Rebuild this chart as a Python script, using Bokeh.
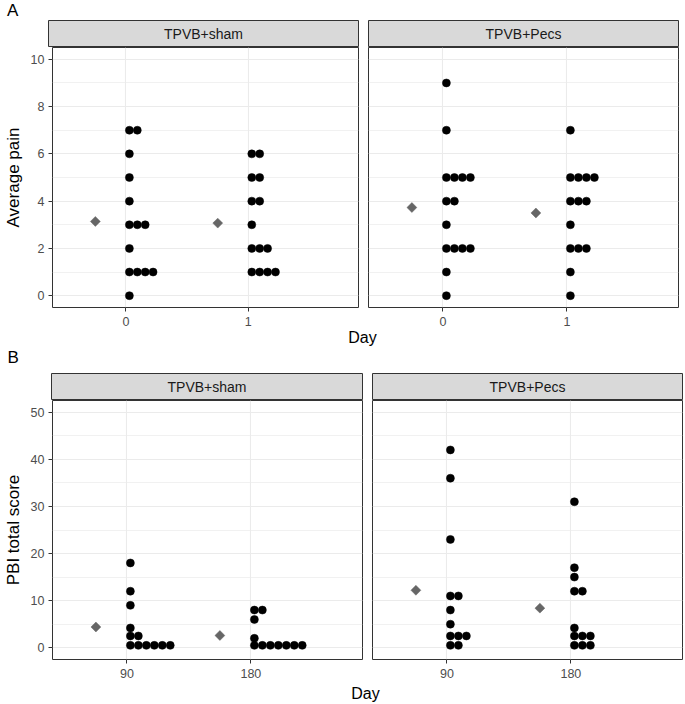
import math
from collections import Counter

from bokeh.plotting import figure
from bokeh.models import Range1d, FixedTicker, Label
from bokeh.layouts import column, row
from bokeh.embed import file_html
from bokeh.resources import INLINE

FONT = "Liberation Sans"

# ---------------- data ----------------
groups = ["TPVB+sham", "TPVB+Pecs"]

# A: average pain by day
pain_days = [0, 1]
pain_day_labels = ["0", "1"]
pain_sham_day0 = [0, 1, 1, 1, 1, 2, 3, 3, 3, 4, 5, 6, 7, 7]
pain_sham_day1 = [1, 1, 1, 1, 2, 2, 2, 3, 4, 4, 5, 5, 6, 6]
pain_pecs_day0 = [0, 1, 2, 2, 2, 2, 3, 4, 4, 5, 5, 5, 5, 7, 9]
pain_pecs_day1 = [0, 1, 2, 2, 2, 3, 4, 4, 4, 5, 5, 5, 5, 7]
pain_sham_mean = [3.14, 3.07]
pain_pecs_mean = [3.73, 3.50]
pain_major = [0, 2, 4, 6, 8, 10]
pain_minor = [1, 3, 5, 7, 9]

# B: PBI total score by day (dot centres are the binned values)
pbi_days = [90, 180]
pbi_day_labels = ["90", "180"]
pbi_sham_day90 = [0.5, 0.5, 0.5, 0.5, 0.5, 0.5, 2.5, 2.5, 4.2, 9, 12, 18]
pbi_sham_day180 = [0.5, 0.5, 0.5, 0.5, 0.5, 0.5, 0.5, 2, 6, 8, 8]
pbi_pecs_day90 = [0.5, 0.5, 2.5, 2.5, 2.5, 5, 8, 11, 11, 23, 36, 42]
pbi_pecs_day180 = [0.5, 0.5, 0.5, 2.5, 2.5, 2.5, 4.2, 12, 12, 15, 17, 31]
pbi_sham_mean = [4.4, 2.6]
pbi_pecs_mean = [12.2, 8.4]
pbi_major = [0, 10, 20, 30, 40, 50]
pbi_minor = [5, 15, 25, 35, 45]

# ---------------- style ----------------
GRID = "#EBEBEB"
BORDER = "#333333"
STRIP_FILL = "#D9D9D9"
TICK_TEXT = "#4D4D4D"
MEAN_COLOR = "#666666"
DOT_SIZE = 8          # px diameter
DOT_START = 3.5       # px from the day line to the first dot centre
MEAN_NUDGE = -0.25    # fraction of the day spacing
STRIP_H = 27
BOTTOM_AXIS_H = 23
PAGE_W = 685


def make_panel(day_values, means, days, day_labels, xr, yr, major, minor,
               fw, fh, left, right, ylabel=None):
    p = figure(width=left + fw + right, height=fh + BOTTOM_AXIS_H, title=None,
               x_range=Range1d(*xr), y_range=Range1d(*yr),
               min_border_left=left, min_border_right=right,
               min_border_top=0, min_border_bottom=BOTTOM_AXIS_H,
               y_axis_location="left" if ylabel else None,
               toolbar_location=None, output_backend="svg",
               background_fill_color="white", border_fill_color="white",
               outline_line_color=BORDER, outline_line_width=1)

    # grid
    p.xgrid.ticker = FixedTicker(ticks=days)
    p.xgrid.grid_line_color = GRID
    p.xgrid.grid_line_width = 1.1
    p.ygrid.ticker = FixedTicker(ticks=major, minor_ticks=minor)
    p.ygrid.grid_line_color = GRID
    p.ygrid.grid_line_width = 1.1
    p.ygrid.minor_grid_line_color = GRID
    p.ygrid.minor_grid_line_width = 0.7

    # x axis
    xa = p.xaxis[0]
    xa.ticker = FixedTicker(ticks=days)
    xa.major_label_overrides = {d: lab for d, lab in zip(days, day_labels)}
    xa.axis_line_color = None
    xa.major_tick_line_color = BORDER
    xa.major_tick_out = 4
    xa.major_tick_in = 0
    xa.minor_tick_line_color = None
    xa.major_label_standoff = 5
    xa.major_label_text_font = FONT
    xa.major_label_text_font_size = "12.5px"
    xa.major_label_text_color = TICK_TEXT

    if ylabel:
        ya = p.yaxis[0]
        ya.ticker = FixedTicker(ticks=major, minor_ticks=minor)
        ya.axis_line_color = None
        ya.major_tick_line_color = BORDER
        ya.major_tick_out = 4
        ya.major_tick_in = 0
        ya.minor_tick_line_color = None
        ya.major_label_standoff = 4
        ya.major_label_text_font = FONT
        ya.major_label_text_font_size = "12.5px"
        ya.major_label_text_color = TICK_TEXT
        ya.axis_label = ylabel
        ya.axis_label_text_font = FONT
        ya.axis_label_text_font_size = "17px"
        ya.axis_label_text_font_style = "normal"
        ya.axis_label_text_color = "black"
        ya.axis_label_standoff = 5

    # dot stacks, growing to the right of each day
    ppu = fw / (xr[1] - xr[0])
    xs, ys = [], []
    for day, vals in zip(days, day_values):
        seen = Counter()
        for v in sorted(vals):
            k = seen[v]
            seen[v] += 1
            xs.append(day + (DOT_START + k * DOT_SIZE) / ppu)
            ys.append(v)
    p.scatter(xs, ys, marker="circle", size=DOT_SIZE,
              fill_color="black", line_color="black", line_width=0.5)

    # group means, nudged to the left of each day
    step = days[1] - days[0]
    mx = [d + MEAN_NUDGE * step for d in days]
    p.scatter(mx, means, marker="square", angle=math.pi / 4, size=7,
              fill_color=MEAN_COLOR, line_color=MEAN_COLOR, line_width=0.5)
    return p


def make_strip(text, fw, left, right):
    s = figure(width=left + fw + right, height=STRIP_H, title=None,
               x_range=Range1d(0, 1), y_range=Range1d(0, 1),
               min_border_left=left, min_border_right=right,
               min_border_top=0, min_border_bottom=0,
               x_axis_location=None, y_axis_location=None,
               toolbar_location=None, output_backend="svg",
               background_fill_color=STRIP_FILL, border_fill_color="white",
               outline_line_color=BORDER, outline_line_width=1)
    s.grid.visible = False
    s.add_layout(Label(x=0.5, y=0.5, text=text, text_align="center",
                       text_baseline="middle", text_font=FONT,
                       text_font_size="14px", text_color="#1A1A1A"))
    return s


def make_text_band(height, items):
    t = figure(width=PAGE_W, height=height, title=None,
               x_range=Range1d(0, PAGE_W), y_range=Range1d(0, height),
               min_border=0, x_axis_location=None, y_axis_location=None,
               toolbar_location=None, output_backend="svg",
               outline_line_color=None, background_fill_color="white",
               border_fill_color="white")
    t.grid.visible = False
    for x, y, text, size, align in items:
        t.add_layout(Label(x=x, y=y, text=text, text_align=align,
                           text_baseline="middle", text_font=FONT,
                           text_font_size=size, text_color="black"))
    return t


# ---------------- section A ----------------
pain_xr = (-0.6, 1.9)
pain_yr = (-0.5, 10.5)
hdr_a = make_text_band(20, [(6.5, 10.5, "A", "17px", "left")])
strips_a = row(make_strip(groups[0], 310, 48, 1), make_strip(groups[1], 310, 9, 7))
panels_a = row(
    make_panel([pain_sham_day0, pain_sham_day1], pain_sham_mean, pain_days,
               pain_day_labels, pain_xr, pain_yr, pain_major, pain_minor,
               310, 260, 48, 1, ylabel="Average pain"),
    make_panel([pain_pecs_day0, pain_pecs_day1], pain_pecs_mean, pain_days,
               pain_day_labels, pain_xr, pain_yr, pain_major, pain_minor,
               310, 260, 9, 7),
)

# band between the two sections: x title of A and the tag of B
mid_band = make_text_band(43, [(362, 36, "Day", "16px", "center"),
                               (7, 16.3, "B", "17px", "left")])

# ---------------- section B ----------------
pbi_xr = (36, 261)
pbi_yr = (-2.5, 52.5)
strips_b = row(make_strip(groups[0], 311, 51, 1), make_strip(groups[1], 310, 9, 3))
panels_b = row(
    make_panel([pbi_sham_day90, pbi_sham_day180], pbi_sham_mean, pbi_days,
               pbi_day_labels, pbi_xr, pbi_yr, pbi_major, pbi_minor,
               311, 259, 51, 1, ylabel="PBI total score"),
    make_panel([pbi_pecs_day90, pbi_pecs_day180], pbi_pecs_mean, pbi_days,
               pbi_day_labels, pbi_xr, pbi_yr, pbi_major, pbi_minor,
               310, 259, 9, 3),
)
day_b = make_text_band(22, [(365, 11, "Day", "16px", "center")])

page = column(hdr_a, strips_a, panels_a, mid_band, strips_b, panels_b, day_b)

with open("out.html", "w") as f:
    f.write(file_html(page, INLINE))
